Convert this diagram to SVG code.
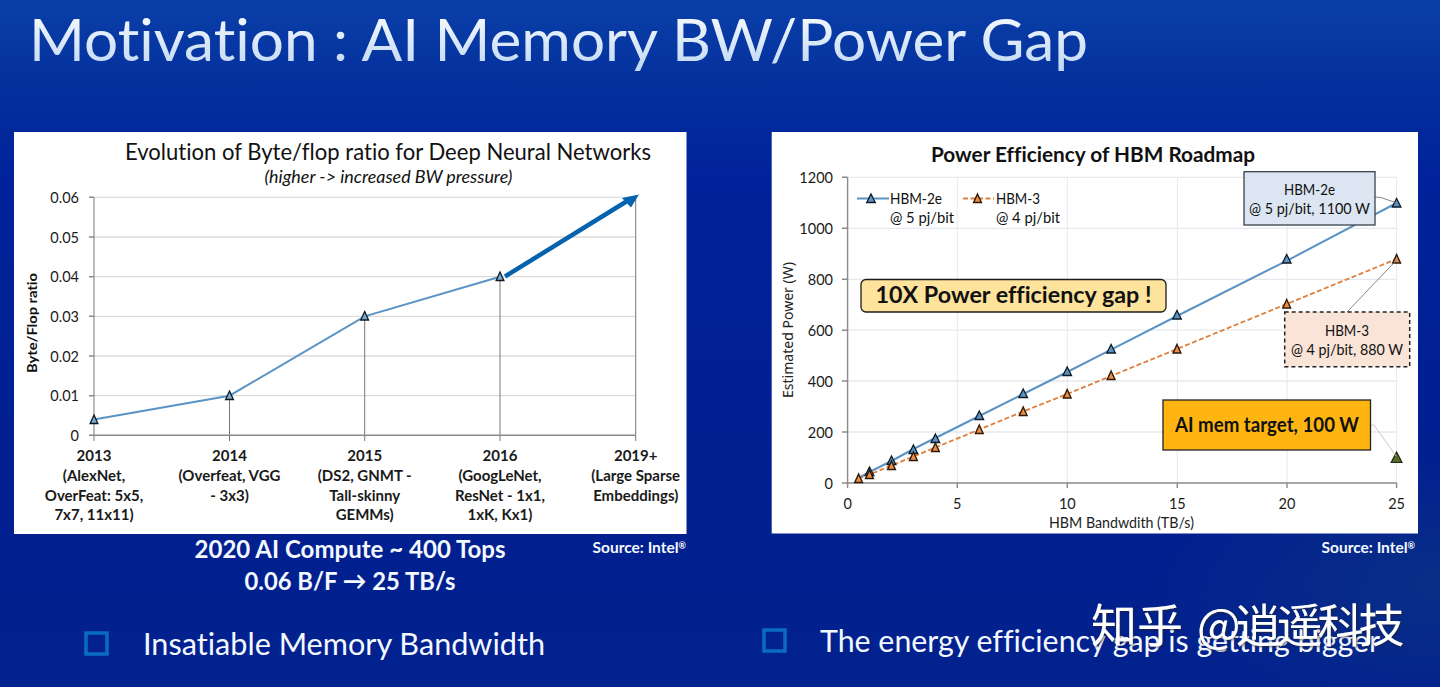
<svg xmlns="http://www.w3.org/2000/svg" width="1440" height="687" viewBox="0 0 1440 687">
<style>
text{font-family:"Lato","Noto Sans","Noto Sans CJK SC",sans-serif;fill:#111;font-variant-ligatures:none}
.w{fill:#f4f8ff}
.b{font-weight:700}
.c{text-anchor:middle}
.e{text-anchor:end}
.grid{stroke:#dcdcdc;stroke-width:1.3;fill:none}
.vgrid{stroke:#e6e9ee;stroke-width:1;fill:none}
.axis{stroke:#8a8a8a;stroke-width:1.4;fill:none}
.drop{stroke:#777;stroke-width:1;fill:none}
.cat{font-size:15px;font-weight:700;fill:#1a1a1a;text-anchor:middle}
.yl{font-size:14.500px;text-anchor:end;fill:#1a1a1a}
.xl{font-size:14.500px;text-anchor:middle;fill:#1a1a1a}
.s1{stroke:#5b93c4;stroke-width:2;fill:none}
.s2{stroke:#dd7f3a;stroke-width:1.8;stroke-dasharray:5 2.5;fill:none}
.m0{fill:#7fa9cb;stroke:#0d1a26;stroke-width:1.300}
.m1{fill:#5b93c4;stroke:#0d1a26;stroke-width:1.300}
.m2{fill:#ec8d45;stroke:#2d1a08;stroke-width:1.400}
.lead{stroke:#777;stroke-width:.9;fill:none}
</style>
<defs>
<linearGradient id="bg" x1="0" y1="0" x2="0" y2="1">
<stop offset="0" stop-color="#0a3fa8"/>
<stop offset=".1" stop-color="#05339f"/>
<stop offset=".25" stop-color="#00229a"/>
<stop offset=".7" stop-color="#011f90"/>
<stop offset="1" stop-color="#02228e"/>
</linearGradient>
<radialGradient id="glow" cx="1" cy=".85" r=".2">
<stop offset="0" stop-color="#0f3a80" stop-opacity=".55"/>
<stop offset="1" stop-color="#0f3a80" stop-opacity="0"/>
</radialGradient>
<linearGradient id="tt" x1="0" y1="0" x2="0" y2="1">
<stop offset="0" stop-color="#ffffff"/>
<stop offset="1" stop-color="#bcd6f3"/>
</linearGradient>
<path id="t" d="M0-5 4.300 3.500H-4.300Z"/>
<path id="t2" d="M0-5 3.900 3.500H-3.900Z"/>
<filter id="sh" x="-5%" y="-20%" width="110%" height="140%"><feDropShadow dx="1" dy="1" stdDeviation="1" flood-color="#222" flood-opacity=".7"/></filter>
</defs>
<rect width="1440" height="687" fill="url(#bg)"/>
<rect width="1440" height="687" fill="url(#glow)"/>
<g id="title"><text x="29" y="61" font-size="58" textLength="1059" lengthAdjust="spacingAndGlyphs" style="fill:url(#tt)">Motivation : AI Memory BW/Power Gap</text></g>

<g id="chart-left">
<rect x="14" y="132" width="672.500" height="402" fill="#fff"/>
<text x="388" y="160" font-size="23" class="c" textLength="526" lengthAdjust="spacingAndGlyphs">Evolution of Byte/flop ratio for Deep Neural Networks</text>
<text x="388.500" y="183" font-size="17.500" font-style="italic" class="c" textLength="248" lengthAdjust="spacingAndGlyphs">(higher -&gt; increased BW pressure)</text>
<path class="grid" d="M94 197.300H635.700M94 237H635.700M94 276.700H635.700M94 316.300H635.700M94 356H635.700M94 395.700H635.700"/>
<path class="drop" d="M94 197.300V441M229.500 395.700V441M364.700 316.300V441M500 276.700V441M635.700 197.300V441"/>
<path class="axis" d="M89 197.300H94M89 237H94M89 276.700H94M89 316.300H94M89 356H94M89 395.700H94M89 435.300H635.700"/>
<text x="79" y="203" class="yl">0.06</text><text x="79" y="242.500" class="yl">0.05</text><text x="79" y="282" class="yl">0.04</text><text x="79" y="322" class="yl">0.03</text><text x="79" y="361.500" class="yl">0.02</text><text x="79" y="401" class="yl">0.01</text><text x="79" y="441" class="yl">0</text>
<text transform="translate(37 323) rotate(-90)" font-size="13.500" class="b c" textLength="100" lengthAdjust="spacingAndGlyphs">Byte/Flop ratio</text>
<path class="s1" d="M94 419.400 229.500 395.700 364.700 316.300 500 276.700"/>
<use href="#t2" x="94" y="420" class="m0"/><use href="#t2" x="229.500" y="396" class="m0"/><use href="#t2" x="364.700" y="316.500" class="m0"/><use href="#t2" x="500" y="277" class="m0"/>
<text class="cat" x="94" y="461">2013</text><text class="cat" x="94" y="481">(AlexNet,</text><text class="cat" x="94" y="500.500">OverFeat: 5x5,</text><text class="cat" x="94" y="520">7x7, 11x11)</text>
<text class="cat" x="229.500" y="461">2014</text><text class="cat" x="229.500" y="481">(Overfeat, VGG</text><text class="cat" x="229.500" y="500.500">- 3x3)</text>
<text class="cat" x="364.700" y="461">2015</text><text class="cat" x="364.700" y="481">(DS2, GNMT -</text><text class="cat" x="364.700" y="500.500">Tall-skinny</text><text class="cat" x="364.700" y="520">GEMMs)</text>
<text class="cat" x="500" y="461">2016</text><text class="cat" x="500" y="481">(GoogLeNet,</text><text class="cat" x="500" y="500.500">ResNet - 1x1,</text><text class="cat" x="500" y="520">1xK, Kx1)</text>
<text class="cat" x="635.700" y="461">2019+</text><text class="cat" x="635.700" y="481">(Large Sparse</text><text class="cat" x="635.700" y="500.500">Embeddings)</text>
</g>

<g id="chart-right">
<rect x="771.700" y="132" width="646.300" height="401.500" fill="#fff"/>
<text x="1093" y="162" font-size="20.500" class="b c" textLength="324" lengthAdjust="spacingAndGlyphs">Power Efficiency of HBM Roadmap</text>
<path class="vgrid" d="M957.300 177.300V483M1067.300 177.300V483M1177.300 177.300V483M1287 177.300V483M1396.600 177.300V483"/>
<path class="grid" style="stroke:#e6e9ee" d="M847.600 177.300H1396.600M847.600 228.300H1396.600M847.600 279.300H1396.600M847.600 330.200H1396.600M847.600 381H1396.600M847.600 432H1396.600"/>
<path class="axis" d="M847.600 177.300V483M842 177.300H847.600M842 228.300H847.600M842 279.300H847.600M842 330.200H847.600M842 381H847.600M842 432H847.600M842 483H1396.600M847.600 483V488M957.300 483V488M1067.300 483V488M1177.300 483V488M1287 483V488M1396.600 483V488"/>
<text class="yl" x="833" y="182.500">1200</text><text class="yl" x="833" y="233.500">1000</text><text class="yl" x="833" y="284.500">800</text><text class="yl" x="833" y="335.500">600</text><text class="yl" x="833" y="386.500">400</text><text class="yl" x="833" y="437.500">200</text><text class="yl" x="833" y="488.500">0</text>
<text class="xl" x="847.600" y="509">0</text><text class="xl" x="957.300" y="509">5</text><text class="xl" x="1067.300" y="509">10</text><text class="xl" x="1177.300" y="509">15</text><text class="xl" x="1287" y="509">20</text><text class="xl" x="1396.600" y="509">25</text>
<text transform="translate(793 330) rotate(-90)" font-size="13.500" class="c" textLength="136" lengthAdjust="spacingAndGlyphs" style="font-family:'Noto Sans',sans-serif;fill:#222">Estimated Power (W)</text>
<text x="1121.500" y="528" font-size="14.500" class="c" textLength="145" lengthAdjust="spacingAndGlyphs" style="fill:#222">HBM Bandwdith (TB/s)</text>
<path class="s1" d="M858.600 478 869.500 472 891.500 461 913.400 449 935.400 438 979.300 416 1023.200 394 1067.200 372 1111.100 349.700 1177 316 1286.700 260.800 1396.600 203"/>
<path class="s2" d="M858.600 478.500 869.500 474.500 891.500 465.500 913.400 456.500 935.400 447.500 979.300 429.500 1023.200 411.500 1067.200 394 1111.100 376 1177 349 1286.700 304 1396.600 259"/>
<g class="m1"><use href="#t" x="869.500" y="472"/><use href="#t" x="891.500" y="461"/><use href="#t" x="913.400" y="450"/><use href="#t" x="935.400" y="439"/><use href="#t" x="979.300" y="416"/><use href="#t" x="1023.200" y="394"/><use href="#t" x="1067.200" y="372"/><use href="#t" x="1111.100" y="349.500"/><use href="#t" x="1177" y="315.500"/><use href="#t" x="1286.700" y="259.500"/><use href="#t" x="1396.600" y="203.500"/></g>
<g class="m2"><use href="#t2" x="858.600" y="479"/><use href="#t2" x="869.500" y="475"/><use href="#t2" x="891.500" y="466"/><use href="#t2" x="913.400" y="457"/><use href="#t2" x="935.400" y="448"/><use href="#t2" x="979.300" y="430"/><use href="#t2" x="1023.200" y="412"/><use href="#t2" x="1067.200" y="394.500"/><use href="#t2" x="1111.100" y="376"/><use href="#t2" x="1177" y="349.500"/><use href="#t2" x="1286.700" y="304.500"/><use href="#t2" x="1396.600" y="259.500"/></g>
<path d="M1396.600 452 1402 462.500H1391.200Z" fill="#566a2c" stroke="#1e2a10" stroke-width="1.200"/>
</g>

<g id="legend">
<path class="s1" d="M857 198.500H889"/><use href="#t" x="871" y="199" class="m1"/>
<path class="s2" d="M963 198.500H994"/><use href="#t2" x="977.500" y="199" class="m2"/>
<text x="890" y="204" font-size="15" textLength="52" lengthAdjust="spacingAndGlyphs">HBM-2e</text><text x="890" y="223" font-size="15" textLength="64" lengthAdjust="spacingAndGlyphs">@ 5 pj/bit</text>
<text x="996" y="204" font-size="15" textLength="44" lengthAdjust="spacingAndGlyphs">HBM-3</text><text x="996" y="223" font-size="15" textLength="64" lengthAdjust="spacingAndGlyphs">@ 4 pj/bit</text>
</g>

<g id="connectors">
<path class="lead" d="M1375 197 1381 197.500 1396.600 203"/>
<path class="lead" d="M1347 312 1396.600 260"/>
<path class="lead" style="stroke:#c4c4c4" d="M1371 425 1374 425 1396 456"/>
<path d="M505 276.500 628 200.500" stroke="#0563ae" stroke-width="4.500" fill="none"/>
<path d="M639 194.500 622 198 631 207.500Z" fill="#0563ae"/>
</g>

<g id="box-hbm2e">
<rect x="1244" y="171.700" width="131" height="53.300" fill="#dce6f2" stroke="#39424c" stroke-width="1.300"/>
<text x="1309.500" y="195" font-size="15" class="c" textLength="51" lengthAdjust="spacingAndGlyphs">HBM-2e</text><text x="1309.500" y="214" font-size="15" class="c" textLength="121" lengthAdjust="spacingAndGlyphs">@ 5 pj/bit, 1100 W</text>
</g>
<g id="box-gap">
<rect x="861" y="279.500" width="305" height="32.500" rx="5" fill="#fde39b" stroke="#1d1d1d" stroke-width="1.300"/>
<text x="1013.500" y="302.500" font-size="23" class="b c" textLength="276" lengthAdjust="spacingAndGlyphs">10X Power efficiency gap !</text>
</g>
<g id="box-hbm3">
<rect x="1284.700" y="312" width="125" height="54.700" fill="#f9e4d7" stroke="#222" stroke-width="1.500" stroke-dasharray="4 3"/>
<text x="1347" y="336" font-size="15" class="c" textLength="44" lengthAdjust="spacingAndGlyphs">HBM-3</text><text x="1347" y="355" font-size="15" class="c" textLength="112" lengthAdjust="spacingAndGlyphs">@ 4 pj/bit, 880 W</text>
</g>
<g id="box-target">
<rect x="1163" y="400" width="207.500" height="50" fill="#ffb511" stroke="#222" stroke-width="1.300"/>
<text x="1267" y="432" font-size="20.500" class="b c" textLength="184" lengthAdjust="spacingAndGlyphs">AI mem target, 100 W</text>
</g>

<g id="captions">
<text x="350" y="558" font-size="25" class="w b c" textLength="311" lengthAdjust="spacingAndGlyphs">2020 AI Compute ~ 400 Tops</text>
<text x="350" y="590" font-size="25" class="w b c" textLength="211" lengthAdjust="spacingAndGlyphs">0.06 B/F → 25 TB/s</text>
<text x="686" y="553" font-size="15.500" class="w b e">Source: Intel<tspan font-size="9" dy="-4">®</tspan></text>
<text x="1415" y="553" font-size="15.500" class="w b e">Source: Intel<tspan font-size="9" dy="-4">®</tspan></text>
</g>
<g id="bullet-left">
<rect x="86" y="633" width="21" height="21" fill="none" stroke="#0a6cc0" stroke-width="3.500"/>
<text x="143" y="655" font-size="31" class="w" textLength="402" lengthAdjust="spacingAndGlyphs">Insatiable Memory Bandwidth</text>
</g>
<g id="bullet-right">
<rect x="764" y="630" width="21" height="21" fill="none" stroke="#0a6cc0" stroke-width="3.500"/>
<text x="820" y="652" font-size="31" class="w" textLength="560" lengthAdjust="spacingAndGlyphs">The energy efficiency gap is getting bigger</text>
</g>
<g id="watermark">
<text y="642" font-size="46" filter="url(#sh)" style="fill:#fff;font-family:'Noto Sans CJK SC','Noto Sans',sans-serif"><tspan x="1091">知乎 </tspan><tspan x="1197" letter-spacing="-5">@逍遥科技</tspan></text>
</g>
</svg>
